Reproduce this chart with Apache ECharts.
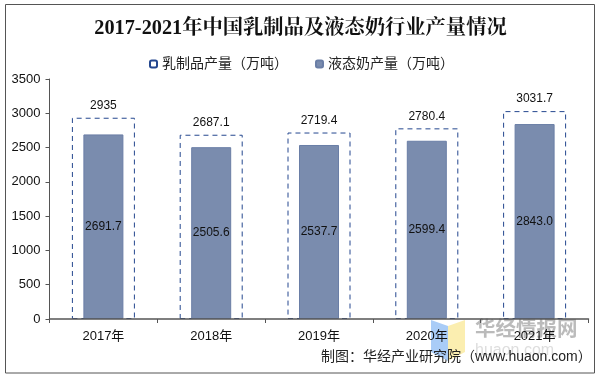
<!DOCTYPE html>
<html>
<head>
<meta charset="utf-8">
<style>
html, body { margin: 0; padding: 0; background: #fff; }
#chart { width: 601px; height: 378px; }
</style>
<script src="https://cdn.jsdelivr.net/npm/echarts@6/dist/echarts.min.js"></script>
</head>
<body>
<div id="chart"></div>
<script>
const years = ['2017年', '2018年', '2019年', '2020年', '2021年'];
const dairyOutput = [2935, 2687.1, 2719.4, 2780.4, 3031.7];
const liquidMilkOutput = [2691.7, 2505.6, 2537.7, 2599.4, 2843.0];
const yTicks = { min: 0, max: 3500, interval: 500 };

const latin = '"Liberation Sans", "Noto Sans CJK SC", sans-serif';

const chart = echarts.init(document.getElementById('chart'));

chart.setOption({
    animation: false,
    backgroundColor: '#fff',
    title: {
        text: '2017-2021年中国乳制品及液态奶行业产量情况',
        left: 'center',
        top: 14,
        textStyle: {
            fontFamily: '"Liberation Serif", "Noto Serif CJK SC", "Noto Sans CJK SC", serif',
            fontSize: 20.3,
            fontWeight: 'bold',
            color: '#111'
        }
    },
    legend: {
        top: 52,
        left: 144,
        itemWidth: 7,
        itemHeight: 7,
        itemGap: 27,
        textStyle: { fontFamily: latin, fontSize: 14, color: '#222' },
        data: ['乳制品产量（万吨）', '液态奶产量（万吨）']
    },
    grid: { left: 49.5, right: 12.5, top: 79, bottom: 59 },
    xAxis: [
        {
            type: 'category',
            data: years,
            z: 5,
            axisLine: { lineStyle: { color: '#555', width: 1.5 } },
            axisTick: { show: true, length: 4, lineStyle: { color: '#555' } },
            axisLabel: { fontFamily: latin, fontSize: 13, color: '#111', margin: 11 }
        },
        { type: 'category', data: years, show: false }
    ],
    yAxis: {
        type: 'value',
        min: yTicks.min,
        max: yTicks.max,
        interval: yTicks.interval,
        z: 5,
        axisLine: { show: true, lineStyle: { color: '#555' } },
        axisTick: { show: true, length: 4, lineStyle: { color: '#555' } },
        splitLine: { show: false },
        axisLabel: {
            fontFamily: latin,
            fontSize: 13,
            color: '#111',
            margin: 9,
            formatter: function (v) { return String(v); }
        }
    },
    series: [
        {
            name: '乳制品产量（万吨）',
            type: 'bar',
            xAxisIndex: 0,
            barWidth: 63,
            data: dairyOutput,
            itemStyle: {
                color: 'transparent',
                borderColor: '#24478f',
                borderWidth: 1,
                borderType: [5, 4]
            },
            label: {
                show: true,
                position: 'top',
                distance: 6,
                fontFamily: latin,
                fontSize: 12,
                color: '#111'
            }
        },
        {
            name: '液态奶产量（万吨）',
            type: 'bar',
            xAxisIndex: 1,
            barWidth: 40,
            data: liquidMilkOutput,
            itemStyle: { color: '#7a8cae', borderColor: '#6a7ea6', borderWidth: 1 },
            label: {
                show: true,
                position: 'inside',
                fontFamily: latin,
                fontSize: 12,
                color: '#111',
                formatter: function (p) { return p.value.toFixed(1); }
            }
        }
    ],
    graphic: [
        {
            type: 'rect',
            z: -1,
            shape: { x: 5.5, y: 4.5, width: 589, height: 368.5 },
            style: { fill: 'none', stroke: '#555', lineWidth: 1 }
        },
        // watermark logo, sits under the axis labels
        {
            type: 'polygon',
            z: 1,
            shape: { points: [[431, 320], [448, 326], [448, 361], [431, 352]] },
            style: { fill: '#a9ccf7' }
        },
        {
            type: 'polygon',
            z: 1,
            shape: { points: [[448, 326], [465, 320], [465, 352], [448, 361]] },
            style: { fill: '#fbeeb0' }
        },
        {
            type: 'text',
            z: 1,
            x: 475,
            y: 318,
            style: {
                text: '华经情报网',
                fontFamily: '"Noto Sans CJK SC", sans-serif',
                fontSize: 20.5,
                fontWeight: 'bold',
                fill: 'rgba(150,150,150,0.65)'
            }
        },
        {
            type: 'text',
            z: 1,
            x: 475,
            y: 343,
            style: {
                text: 'huaon.com',
                fontFamily: latin,
                fontSize: 16,
                fill: 'rgba(170,170,170,0.4)'
            }
        },
        {
            type: 'text',
            z: 6,
            x: 321,
            y: 350,
            style: {
                text: '制图：华经产业研究院（www.huaon.com）',
                fontFamily: latin,
                fontSize: 14,
                fill: '#222'
            }
        }
    ]
});
</script>
</body>
</html>
